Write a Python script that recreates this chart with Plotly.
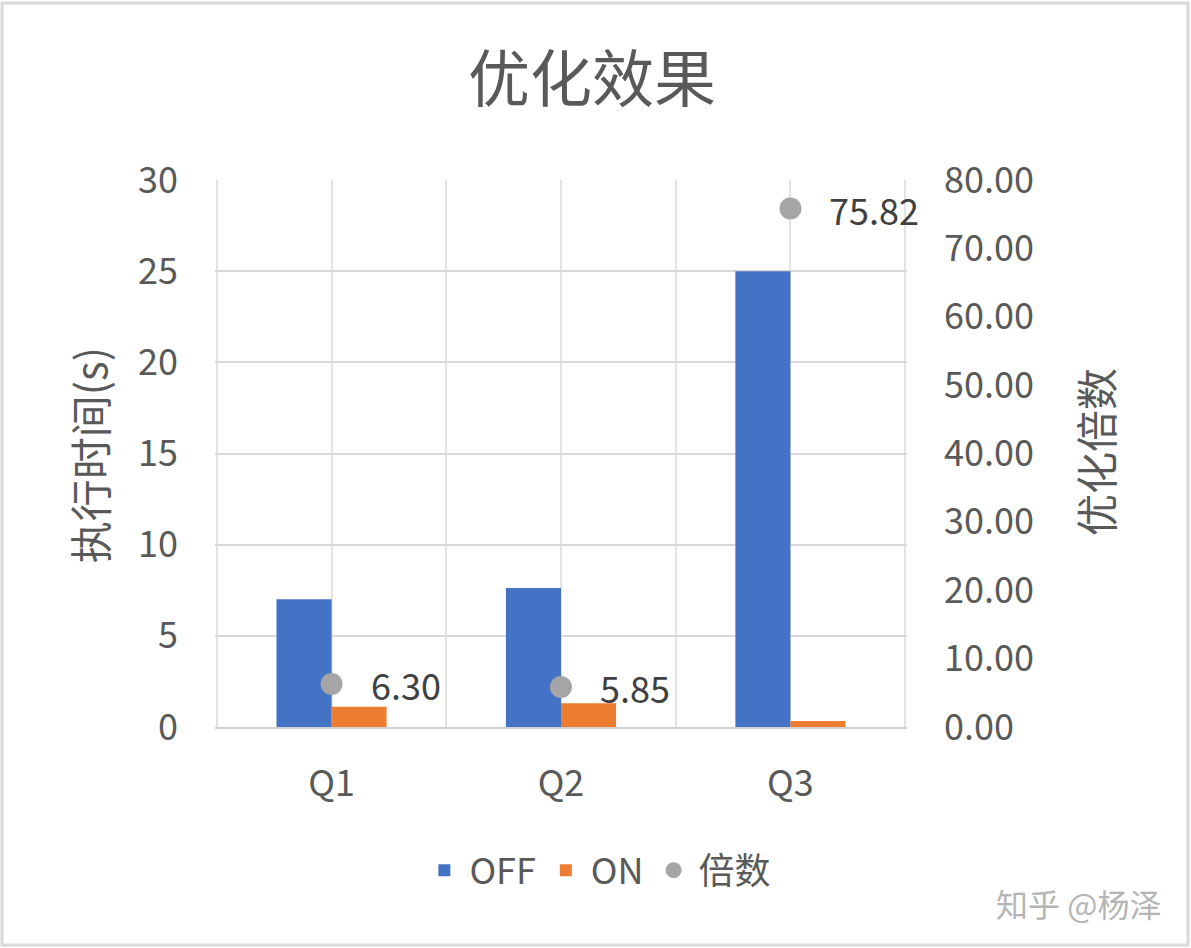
import plotly.graph_objects as go

# chart data
categories = ["Q1", "Q2", "Q3"]
off_time = [7.0, 7.62, 25.0]
on_time = [1.11, 1.30, 0.33]
speedup = [6.30, 5.85, 75.82]
speedup_labels = ["6.30", "5.85", "75.82"]

pos = list(range(len(categories)))
font_cn = "Noto Sans CJK SC, Noto Sans, sans-serif"
grey_txt = "#595959"

fig = go.Figure()

fig.add_trace(go.Bar(x=pos, y=off_time, name="OFF", marker_color="#4472C4"))
fig.add_trace(go.Bar(x=pos, y=on_time, name="ON", marker_color="#ED7D31"))
fig.add_trace(go.Scatter(x=pos, y=speedup, name="倍数", mode="markers",
                         yaxis="y2", marker=dict(size=22, color="#A5A5A5")))

# data labels beside the markers
for xv, yv, lab in zip(pos, speedup, speedup_labels):
    fig.add_annotation(x=xv, y=yv, xref="x", yref="y2", text=lab,
                       showarrow=False, xanchor="left", xshift=37,
                       font=dict(size=36, color="#404040", family=font_cn))

# gridlines at category centres and boundaries
grid_vals = [p / 2 - 0.5 for p in range(2 * len(categories) + 1)]
grid_text = ["" if i % 2 == 0 else categories[i // 2] for i in range(len(grid_vals))]

fig.update_layout(
    template="none",
    width=1191, height=948,
    margin=dict(l=215, r=284, t=180, b=221, autoexpand=False),
    paper_bgcolor="white", plot_bgcolor="white",
    font=dict(family=font_cn, color=grey_txt, size=36),
    title=dict(text="优化效果", x=0.497, xanchor="center", y=0.915, yanchor="middle",
               font=dict(size=62, color=grey_txt)),
    barmode="group", bargap=0.52, bargroupgap=0,
    showlegend=True,
    legend=dict(orientation="h", x=0.502, xref="container", xanchor="center",
                y=-0.262, yanchor="middle", font=dict(size=36), itemwidth=40,
                tracegroupgap=0, bgcolor="rgba(0,0,0,0)"),
    xaxis=dict(range=[-0.508, 2.508], tickvals=grid_vals, ticktext=grid_text,
               showgrid=True, gridcolor="#e3e3e3", gridwidth=1.5,
               showline=True, linecolor="#d0d0d0", linewidth=2,
               ticks="", zeroline=False, automargin=False, ticklabelstandoff=24),
    yaxis=dict(range=[0, 30], dtick=5, showgrid=True, gridcolor="#d9d9d9",
               gridwidth=2, zeroline=False, ticks="", ticklabelstandoff=36,
               automargin=False, showline=False),
    yaxis2=dict(range=[0, 80], dtick=10, tickformat=".2f", overlaying="y",
                side="right", showgrid=False, zeroline=False, ticks="",
                ticklabelstandoff=36, automargin=False, showline=False),
)

# axis titles
fig.add_annotation(x=-0.1835, y=0.497, xref="paper", yref="paper", text="执行时间(s)",
                   textangle=-90, showarrow=False, xanchor="center", yanchor="middle",
                   font=dict(size=42, color=grey_txt, family=font_cn))
fig.add_annotation(x=1.2717, y=0.503, xref="paper", yref="paper", text="优化倍数",
                   textangle=-90, showarrow=False, xanchor="center", yanchor="middle",
                   font=dict(size=42, color=grey_txt, family=font_cn))

# watermark
fig.add_annotation(x=1.37, y=-0.322, xref="paper", yref="paper", text="知乎 @杨泽",
                   showarrow=False, xanchor="right", yanchor="middle",
                   font=dict(size=32, color="#b5b5b5", family=font_cn))

# outer frame of the chart
fig.add_shape(type="rect", xref="paper", yref="paper",
              x0=-213 / 692, x1=(1188 - 215) / 692, y0=-218 / 547, y1=(727 - 3) / 547,
              line=dict(color="#d9d9d9", width=3), layer="below")

fig.write_html("out.html", config={"displayModeBar": False},
               post_script="document.body.style.margin='0';")
